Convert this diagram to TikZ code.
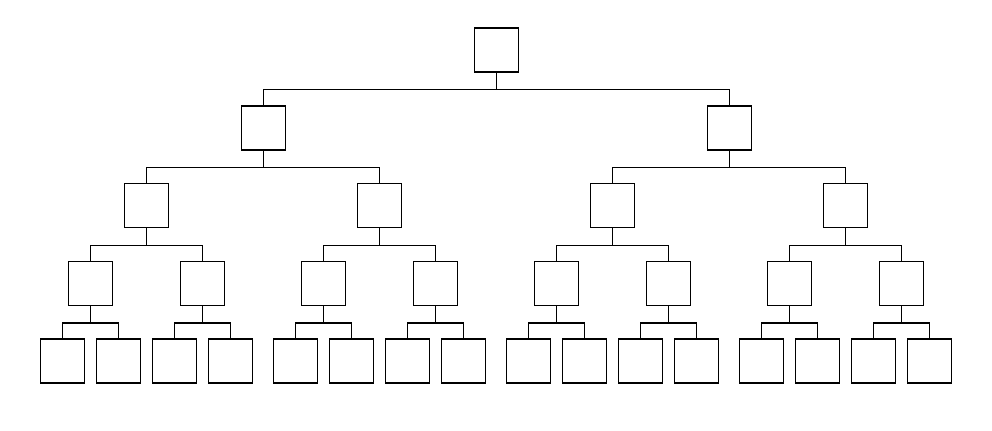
\documentclass[tikz,border=0pt]{standalone}
\usepackage{tikz}
\usetikzlibrary{positioning,calc}

\tikzset{
  box/.style={draw, line width=0.7pt, minimum size=0.88cm, inner sep=0pt},
  link/.style={line width=0.7pt}
}

\begin{document}
\begin{tikzpicture}[x=0.02cm, y=-0.02cm]

\useasboundingbox (0,0) rectangle (992,430);

%Boxes, one row per level
\node[box] (n0-0) at (496.2,50) {};
\foreach \i in {0,1}
	\node[box] (n1-\i) at ({263.2+466*\i},128) {};
\foreach \i in {0,...,3}
	\node[box] (n2-\i) at ({146.7+233*\i},205.75) {};
\foreach \i in {0,...,7}
{
	\node[box] (n3-\i) at ({90.7+233*floor(\i/2)+112*mod(\i,2)},283.5) {};
}
\foreach \i in {0,...,15}
{
	\node[box] (n4-\i) at ({62.7+233*floor(\i/4)+56*mod(\i,4)},361) {};
							%{} - x from group and place in group
}

%Elbow connectors, parent down to bar, then down to child
\foreach \c in {0,1}
	\draw[link] (n0-0.south) -- ++(0,16.9) -| (n1-\c.north);
\foreach \c [evaluate=\c as \p using int(\c/2)] in {0,...,3}
	\draw[link] (n1-\p.south) -- ++(0,16.9) -| (n2-\c.north);
\foreach \c [evaluate=\c as \p using int(\c/2)] in {0,...,7}
	\draw[link] (n2-\p.south) -- ++(0,16.9) -| (n3-\c.north);
\foreach \c [evaluate=\c as \p using int(\c/2)] in {0,...,15}
	\draw[link] (n3-\p.south) -- ++(0,16.9) -| (n4-\c.north);

\end{tikzpicture}
\end{document}
